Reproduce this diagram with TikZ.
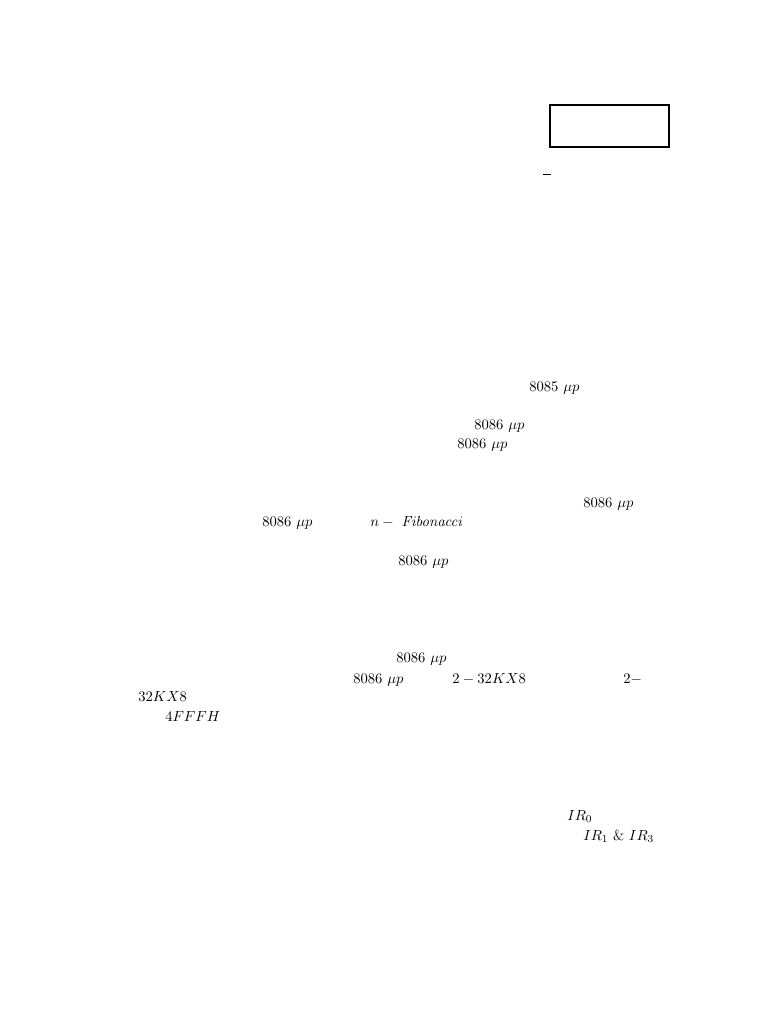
\documentclass[tikz,border=0pt]{standalone}
\begin{document}
\begin{tikzpicture}[x=0.75pt,y=-0.75pt,
  t/.style={anchor=base west,inner sep=0pt,font=\fontsize{11}{13}\selectfont}]
\useasboundingbox (0,0) rectangle (768,1024);
\draw[line width=0.8pt] (550,105) rectangle (669,147);
\coordinate (d1) at (543,174); \coordinate (d2) at (551,174);
\draw[line width=0.6pt] (d1) -- (d2);
\node[t] (a1) at (529,391) {$8085\ \mu p$};
\node[t] (a2) at (474,429) {$8086\ \mu p$};
\node[t] (a3) at (457,448) {$8086\ \mu p$};
\node[t] (a4) at (583,507) {$8086\ \mu p$};
\node[t] (a5) at (262,526) {$8086\ \mu p$};
\node[t] (a6) at (370,526) {$n-\ \mathit{Fibonacci}$};
\node[t] (a7) at (398,565) {$8086\ \mu p$};
\node[t] (a8) at (396,662) {$8086\ \mu p$};
\node[t] (a9) at (353,683) {$8086\ \mu p$};
\node[t] (a10) at (452,683) {$2-32KX8$};
\node[t] (a11) at (623,683) {$2-$};
\node[t] (a12) at (138,701) {$32KX8$};
\node[t] (a13) at (165,721) {$4FFFH$};
\node[t] (a14) at (567,820) {$IR_0$};
\node[t] (a15) at (583,840) {$IR_1$ \& $IR_3$};
\end{tikzpicture}
\end{document}
